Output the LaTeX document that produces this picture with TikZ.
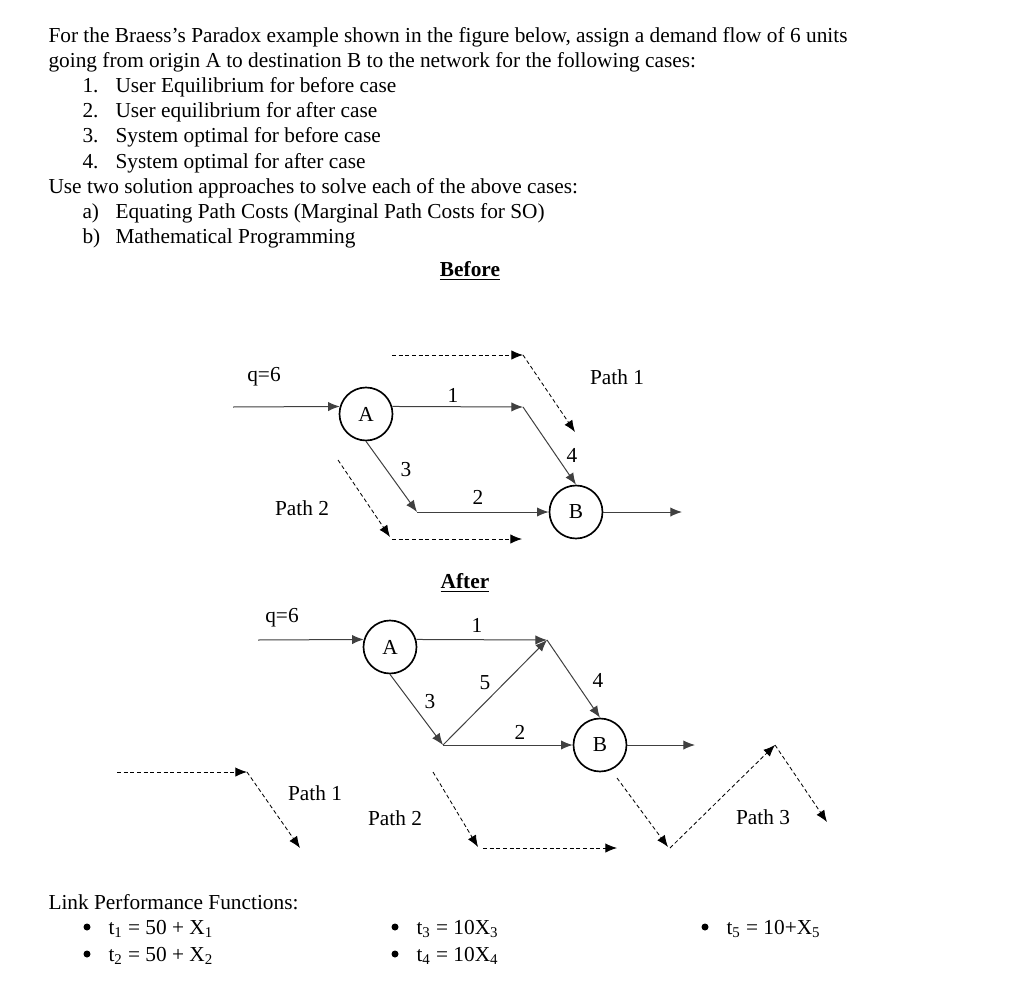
\documentclass[tikz,border=0pt]{standalone}
\usepackage{fontspec}
\setmainfont{Liberation Serif}
\usetikzlibrary{arrows.meta}

\tikzset{
  txt/.style={anchor=base west},
  town/.style={circle, draw=black, line width=1pt, minimum size=31.8pt, inner sep=0pt},
  link/.style={->, draw=black!75},
  route/.style={->, line width=0.5pt, dash pattern=on 2.4pt off 1.6pt},
  dotmark/.style={circle, fill=black, minimum size=4.2pt, inner sep=0pt}
}

\begin{document}
\begin{tikzpicture}[x=0.6pt, y=-0.6pt, line width=0.6pt, >={Latex[length=7pt,width=5.6pt]},
    every node/.style={font=\fontsize{12.8}{15}\selectfont, inner sep=0pt}]
  \useasboundingbox[fill=white] (0,0) rectangle (1024,1006);

  % The question text above the figures.
  \node[txt] (l1) at (48,43) {For the Braess’s Paradox example shown in the figure below, assign a demand flow of 6 units};
  \node[txt] (l2) at (48,68) {going from origin A to destination B to the network for the following cases:};
  \foreach \n/\t [count=\i] in {1./User Equilibrium for before case, 2./User equilibrium for after case,
      3./System optimal for before case, 4./System optimal for after case} {
    \node[txt] (num\i) at (82,{68+25*\i}) {\n};
    \node[txt] (case\i) at (115,{68+25*\i}) {\t};
  }
  \node[txt] (l3) at (48,193) {Use two solution approaches to solve each of the above cases:};
  \foreach \n/\t [count=\i] in {a)/Equating Path Costs (Marginal Path Costs for SO), b)/Mathematical Programming} {
    \node[txt] (way\i) at (82,{193+25*\i}) {\n};
    \node[txt] (wtxt\i) at (115,{193+25*\i}) {\t};
  }

  % Before: two routes from A to B.
  \node (before) at (470,271) {\underline{\textbf{Before}}};
  \node[town] (A1) at (366,414) {A};
  \node[town] (B1) at (576,512) {B};
  \coordinate (in1) at (233,407);
  \coordinate (j1) at (523,407);
  \coordinate (k1) at (417,512);
  \coordinate (out1) at (682,512);
  \draw[link] (in1) -- (A1.164);
  \draw[link] (A1.16) -- (j1);
  \draw[link] (j1) -- (B1.north);
  \draw[link] (A1.south) -- (k1);
  \draw[link] (k1) -- (B1.west);
  \draw[link] (B1.east) -- (out1);
  \node (q1) at (264,377) {q=6};
  \node (e11) at (453,395) {1};
  \node (e14) at (572,455) {4};
  \node (e13) at (406,470) {3};
  \node (e12) at (478,497) {2};

  % Dashed route markers, before.
  \coordinate (r1a) at (392,355);
  \coordinate (r1b) at (523,355);
  \coordinate (r1c) at (575,432);
  \draw[route] (r1a) -- (r1b);
  \draw[route] (r1b) -- (r1c);
  \node (path11) at (617,377) {Path 1};
  \coordinate (r2a) at (338,460);
  \coordinate (r2b) at (390,537);
  \coordinate (r2c) at (392,539);
  \coordinate (r2d) at (522,539);
  \draw[route] (r2a) -- (r2b);
  \draw[route] (r2c) -- (r2d);
  \node (path12) at (302,508) {Path 2};

  % After: link 5 added between the two routes.
  \node (after) at (465,583) {\underline{\textbf{After}}};
  \node[town] (A2) at (390,647) {A};
  \node[town] (B2) at (600,745) {B};
  \coordinate (in2) at (258,640);
  \coordinate (j2) at (547,640);
  \coordinate (k2) at (443,745);
  \coordinate (out2) at (695,745);
  \draw[link] (in2) -- (A2.164);
  \draw[link] (A2.16) -- (j2);
  \draw[link] (j2) -- (B2.north);
  \draw[link] (A2.south) -- (k2);
  \draw[link] (k2) -- (j2);
  \draw[link] (k2) -- (B2.west);
  \draw[link] (B2.east) -- (out2);
  \node (q2) at (282,618) {q=6};
  \node (e21) at (477,625) {1};
  \node (e24) at (598,680) {4};
  \node (e23) at (430,702) {3};
  \node (e25) at (485,683) {5};
  \node (e22) at (520,732) {2};

  % Dashed route markers, after.
  \coordinate (s1a) at (117,772);
  \coordinate (s1b) at (247,772);
  \coordinate (s1c) at (300,848);
  \draw[route] (s1a) -- (s1b);
  \draw[route] (s1b) -- (s1c);
  \node (path21) at (315,793) {Path 1};
  \coordinate (s2a) at (433,772);
  \coordinate (s2b) at (478,847);
  \coordinate (s2c) at (483,848);
  \coordinate (s2d) at (617,848);
  \draw[route] (s2a) -- (s2b);
  \draw[route] (s2c) -- (s2d);
  \node (path22) at (395,818) {Path 2};
  \coordinate (s3a) at (617,778);
  \coordinate (s3b) at (668,847);
  \coordinate (s3c) at (670,848);
  \coordinate (s3d) at (775,745);
  \coordinate (s3e) at (827,822);
  \draw[route] (s3a) -- (s3b);
  \draw[route] (s3c) -- (s3d);
  \draw[route] (s3d) -- (s3e);
  \node (path23) at (763,817) {Path 3};

  % Link performance functions.
  \node[txt] (lpf) at (48,909) {Link Performance Functions:};
  \foreach \x/\y/\t [count=\i] in {82/934/{t\textsubscript{1} = 50 + X\textsubscript{1}},
      82/961/{t\textsubscript{2} = 50 + X\textsubscript{2}},
      390/934/{t\textsubscript{3} = 10X\textsubscript{3}},
      390/961/{t\textsubscript{4} = 10X\textsubscript{4}},
      700/934/{t\textsubscript{5} = 10+X\textsubscript{5}}} {
    \node[dotmark] (dot\i) at (\x+5,\y-7) {};
    \node[txt] (fn\i) at (\x+26,\y) {\t};
  }
\end{tikzpicture}
\end{document}
